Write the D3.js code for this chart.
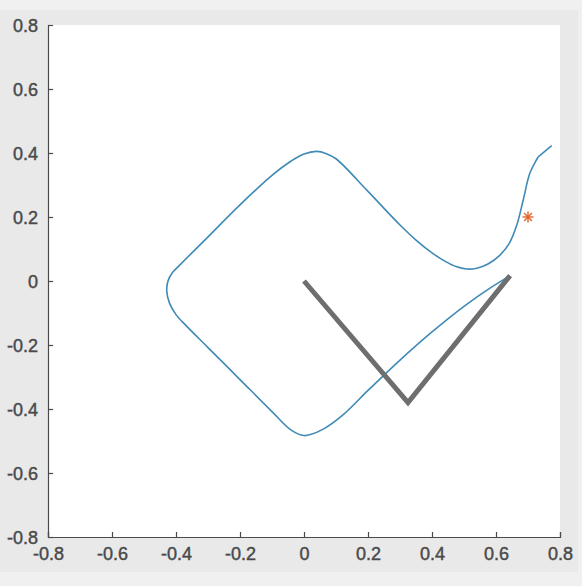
<!DOCTYPE html>
<html><head><meta charset="utf-8">
<script src="https://cdn.jsdelivr.net/npm/d3@7"></script>
<style>
html,body{margin:0;padding:0;background:#f0f0f0;}
svg{display:block;}
</style></head>
<body>
<svg id="chart" width="582" height="586"></svg>
<script>
const xTicks = [-0.8,-0.6,-0.4,-0.2,0,0.2,0.4,0.6,0.8];
const yTicks = [-0.8,-0.6,-0.4,-0.2,0,0.2,0.4,0.6,0.8];
const pathX = [0.638,0.58,0.5,0.4,0.3,0.2,0.12,0.06,0.02,0.0,-0.04,-0.1,-0.2,-0.3,-0.37,-0.4,-0.42,-0.429,-0.425,-0.412,-0.39,-0.3,-0.2,-0.1,-0.04,0.0,0.04,0.07,0.1,0.2,0.3,0.35,0.4,0.44,0.475,0.508,0.54,0.575,0.6125,0.64,0.665,0.685,0.706,0.732];
const pathY = [0.013,-0.023,-0.079,-0.159,-0.247,-0.342,-0.42,-0.463,-0.48,-0.483,-0.466,-0.408,-0.308,-0.208,-0.138,-0.105,-0.07,-0.03,0.0,0.025,0.048,0.138,0.238,0.33,0.375,0.397,0.405,0.398,0.382,0.28,0.175,0.128,0.088,0.062,0.045,0.0375,0.04,0.053,0.081,0.115,0.175,0.253,0.3375,0.388];
const tailX = [0.732,0.774];
const tailY = [0.388,0.423];
const armX = [0,0.325,0.644];
const armY = [0,-0.38,0.017];
const targetX = [0.70];
const targetY = [0.20];

const svg = d3.select('#chart');
svg.append('rect').attr('x',0).attr('y',10).attr('width',578).attr('height',562).attr('fill','#e9e9e9');
const L=48,R=560,T=25,B=537;
const x = d3.scaleLinear().domain([-0.8,0.8]).range([L,R]);
const y = d3.scaleLinear().domain([-0.8,0.8]).range([B,T]);
svg.append('rect').attr('x',L).attr('y',T).attr('width',R-L).attr('height',B-T).attr('fill','#ffffff');

const fmt = d => d===0 ? '0' : (d<0?'-':'') + Math.abs(d).toFixed(1);
const axColor = '#4a4a4a';
const gx = svg.append('g').attr('transform',`translate(0,${B})`)
  .call(d3.axisBottom(x).tickValues(xTicks).tickFormat(fmt).tickSizeInner(-5).tickSizeOuter(-5).tickPadding(10));
const gy = svg.append('g').attr('transform',`translate(${L},0)`)
  .call(d3.axisLeft(y).tickValues(yTicks).tickFormat(fmt).tickSizeInner(-5).tickSizeOuter(-5).tickPadding(10));
[gx,gy].forEach(g=>{
  g.selectAll('path').attr('stroke',axColor).attr('stroke-width',1.2);
  g.selectAll('line').attr('stroke',axColor).attr('stroke-width',1.2);
  g.selectAll('text').attr('fill','#4a4a4a').attr('stroke','#4a4a4a').attr('stroke-width',0.45)
    .style('font-family','Liberation Sans, Arial, sans-serif').style('font-size','18px');
});
gx.selectAll('text').attr('dy','0.71em');
gy.selectAll('text').attr('dy','0.35em');

const pts = pathX.map((v,i)=>[v,pathY[i]]);
const line = d3.line().x(d=>x(d[0])).y(d=>y(d[1]));
svg.append('path').attr('d',line.curve(d3.curveCatmullRom.alpha(0.5))(pts))
  .attr('fill','none').attr('stroke','#3f8ab6').attr('stroke-width',1.6);
const tail = tailX.map((v,i)=>[v,tailY[i]]);
svg.append('path').attr('d',d3.line().x(d=>x(d[0])).y(d=>y(d[1]))(tail))
  .attr('fill','none').attr('stroke','#3f8ab6').attr('stroke-width',1.6);

const arm = armX.map((v,i)=>[v,armY[i]]);
svg.append('path').attr('d',d3.line().x(d=>x(d[0])).y(d=>y(d[1]))(arm))
  .attr('fill','none').attr('stroke','#6e6e6e').attr('stroke-width',5).attr('stroke-linejoin','miter');

targetX.forEach((v,i)=>{
  const cx=x(v), cy=y(targetY[i]), r=5.5;
  const g=svg.append('g').attr('stroke','#e0622a').attr('stroke-width',1.4);
  for(let k=0;k<4;k++){
    const a=k*Math.PI/4;
    g.append('line').attr('x1',cx-r*Math.cos(a)).attr('y1',cy-r*Math.sin(a))
      .attr('x2',cx+r*Math.cos(a)).attr('y2',cy+r*Math.sin(a));
  }
});
</script>
</body></html>
